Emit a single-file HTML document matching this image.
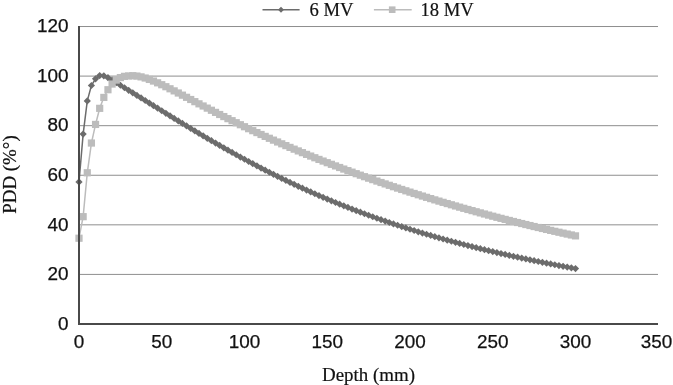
<!DOCTYPE html>
<html><head><meta charset="utf-8"><style>
html,body{margin:0;padding:0;background:#fff;}
body{width:673px;height:385px;overflow:hidden;}
svg{display:block;}
.sans{font-family:"Liberation Sans",Arial,sans-serif;font-size:18.9px;fill:#111;stroke:#111;stroke-width:0.25px;}
.serif{font-family:"Liberation Serif","Times New Roman",serif;font-size:18.9px;fill:#111;stroke:#111;stroke-width:0.2px;}
</style></head><body>
<svg width="673" height="385" viewBox="0 0 673 385">
<g stroke="#8e8e8e" stroke-width="1"><line x1="79" x2="658" y1="274.42" y2="274.42"/><line x1="79" x2="658" y1="224.84" y2="224.84"/><line x1="79" x2="658" y1="175.26" y2="175.26"/><line x1="79" x2="658" y1="125.68" y2="125.68"/><line x1="79" x2="658" y1="76.10" y2="76.10"/><line x1="79" x2="658" y1="26.52" y2="26.52"/></g>
<g class="sans"><text x="68.6" y="329.80" text-anchor="end">0</text><text x="68.6" y="280.22" text-anchor="end">20</text><text x="68.6" y="230.64" text-anchor="end">40</text><text x="68.6" y="181.06" text-anchor="end">60</text><text x="68.6" y="131.48" text-anchor="end">80</text><text x="68.6" y="81.90" text-anchor="end">100</text><text x="68.6" y="32.32" text-anchor="end">120</text><text x="79.00" y="347.8" text-anchor="middle">0</text><text x="161.75" y="347.8" text-anchor="middle">50</text><text x="244.50" y="347.8" text-anchor="middle">100</text><text x="327.25" y="347.8" text-anchor="middle">150</text><text x="410.00" y="347.8" text-anchor="middle">200</text><text x="492.75" y="347.8" text-anchor="middle">250</text><text x="575.50" y="347.8" text-anchor="middle">300</text><text x="656.50" y="347.8" text-anchor="middle">350</text></g>
<text class="serif" x="368.5" y="381" text-anchor="middle">Depth (mm)</text>
<text class="serif" transform="translate(16.2,174.5) rotate(-90)" text-anchor="middle">PDD (%°)</text>
<g>
<polyline fill="none" stroke="#6c6c6c" stroke-width="1.5" points="79.00,181.95 83.14,134.11 87.28,100.89 91.41,85.52 95.55,78.83 99.69,75.60 103.83,75.85 107.96,77.71 112.10,80.22 116.24,82.71 120.38,85.23 124.51,87.75 128.65,90.29 132.79,92.84 136.93,95.39 141.06,97.95 145.20,100.52 149.34,103.08 153.47,105.65 157.61,108.21 161.75,110.77 165.89,113.32 170.03,115.87 174.16,118.41 178.30,120.94 182.44,123.45 186.57,125.96 190.71,128.46 194.85,130.93 198.99,133.40 203.12,135.85 207.26,138.28 211.40,140.69 215.54,143.09 219.68,145.46 223.81,147.82 227.95,150.15 232.09,152.47 236.22,154.76 240.36,157.03 244.50,159.27 248.64,161.50 252.78,163.70 256.91,165.87 261.05,168.03 265.19,170.15 269.33,172.26 273.46,174.33 277.60,176.39 281.74,178.42 285.88,180.42 290.01,182.40 294.15,184.35 298.29,186.28 302.43,188.18 306.56,190.06 310.70,191.91 314.84,193.74 318.98,195.54 323.11,197.32 327.25,199.07 331.39,200.80 335.52,202.50 339.66,204.18 343.80,205.83 347.94,207.46 352.07,209.07 356.21,210.66 360.35,212.22 364.49,213.75 368.62,215.27 372.76,216.76 376.90,218.23 381.04,219.68 385.18,221.11 389.31,222.52 393.45,223.90 397.59,225.26 401.73,226.61 405.86,227.93 410.00,229.24 414.14,230.52 418.27,231.79 422.41,233.03 426.55,234.26 430.69,235.47 434.82,236.66 438.96,237.83 443.10,238.99 447.24,240.13 451.38,241.25 455.51,242.36 459.65,243.45 463.79,244.52 467.93,245.58 472.06,246.62 476.20,247.65 480.34,248.67 484.48,249.66 488.61,250.65 492.75,251.62 496.89,252.58 501.03,253.53 505.16,254.46 509.30,255.38 513.44,256.29 517.58,257.18 521.71,258.07 525.85,258.94 529.99,259.80 534.12,260.65 538.26,261.49 542.40,262.32 546.54,263.14 550.67,263.95 554.81,264.75 558.95,265.54 563.09,266.33 567.23,267.10 571.36,267.86 575.50,268.62"/>
<g fill="#6c6c6c"><path d="M79.00 178.35L82.60 181.95L79.00 185.55L75.40 181.95Z"/><path d="M83.14 130.51L86.74 134.11L83.14 137.71L79.54 134.11Z"/><path d="M87.28 97.29L90.88 100.89L87.28 104.49L83.68 100.89Z"/><path d="M91.41 81.92L95.01 85.52L91.41 89.12L87.81 85.52Z"/><path d="M95.55 75.23L99.15 78.83L95.55 82.43L91.95 78.83Z"/><path d="M99.69 72.00L103.29 75.60L99.69 79.20L96.09 75.60Z"/><path d="M103.83 72.25L107.42 75.85L103.83 79.45L100.23 75.85Z"/><path d="M107.96 74.11L111.56 77.71L107.96 81.31L104.36 77.71Z"/><path d="M112.10 76.62L115.70 80.22L112.10 83.82L108.50 80.22Z"/><path d="M116.24 79.11L119.84 82.71L116.24 86.31L112.64 82.71Z"/><path d="M120.38 81.63L123.97 85.23L120.38 88.83L116.78 85.23Z"/><path d="M124.51 84.15L128.11 87.75L124.51 91.35L120.91 87.75Z"/><path d="M128.65 86.69L132.25 90.29L128.65 93.89L125.05 90.29Z"/><path d="M132.79 89.24L136.39 92.84L132.79 96.44L129.19 92.84Z"/><path d="M136.93 91.79L140.53 95.39L136.93 98.99L133.33 95.39Z"/><path d="M141.06 94.35L144.66 97.95L141.06 101.55L137.46 97.95Z"/><path d="M145.20 96.92L148.80 100.52L145.20 104.12L141.60 100.52Z"/><path d="M149.34 99.48L152.94 103.08L149.34 106.68L145.74 103.08Z"/><path d="M153.47 102.05L157.07 105.65L153.47 109.25L149.88 105.65Z"/><path d="M157.61 104.61L161.21 108.21L157.61 111.81L154.01 108.21Z"/><path d="M161.75 107.17L165.35 110.77L161.75 114.37L158.15 110.77Z"/><path d="M165.89 109.72L169.49 113.32L165.89 116.92L162.29 113.32Z"/><path d="M170.03 112.27L173.62 115.87L170.03 119.47L166.43 115.87Z"/><path d="M174.16 114.81L177.76 118.41L174.16 122.01L170.56 118.41Z"/><path d="M178.30 117.34L181.90 120.94L178.30 124.54L174.70 120.94Z"/><path d="M182.44 119.85L186.04 123.45L182.44 127.05L178.84 123.45Z"/><path d="M186.57 122.36L190.17 125.96L186.57 129.56L182.97 125.96Z"/><path d="M190.71 124.86L194.31 128.46L190.71 132.06L187.11 128.46Z"/><path d="M194.85 127.33L198.45 130.93L194.85 134.53L191.25 130.93Z"/><path d="M198.99 129.80L202.59 133.40L198.99 137.00L195.39 133.40Z"/><path d="M203.12 132.25L206.72 135.85L203.12 139.45L199.53 135.85Z"/><path d="M207.26 134.68L210.86 138.28L207.26 141.88L203.66 138.28Z"/><path d="M211.40 137.09L215.00 140.69L211.40 144.29L207.80 140.69Z"/><path d="M215.54 139.49L219.14 143.09L215.54 146.69L211.94 143.09Z"/><path d="M219.68 141.86L223.28 145.46L219.68 149.06L216.08 145.46Z"/><path d="M223.81 144.22L227.41 147.82L223.81 151.42L220.21 147.82Z"/><path d="M227.95 146.55L231.55 150.15L227.95 153.75L224.35 150.15Z"/><path d="M232.09 148.87L235.69 152.47L232.09 156.07L228.49 152.47Z"/><path d="M236.22 151.16L239.82 154.76L236.22 158.36L232.62 154.76Z"/><path d="M240.36 153.43L243.96 157.03L240.36 160.63L236.76 157.03Z"/><path d="M244.50 155.67L248.10 159.27L244.50 162.87L240.90 159.27Z"/><path d="M248.64 157.90L252.24 161.50L248.64 165.10L245.04 161.50Z"/><path d="M252.78 160.10L256.38 163.70L252.78 167.30L249.18 163.70Z"/><path d="M256.91 162.27L260.51 165.87L256.91 169.47L253.31 165.87Z"/><path d="M261.05 164.43L264.65 168.03L261.05 171.63L257.45 168.03Z"/><path d="M265.19 166.55L268.79 170.15L265.19 173.75L261.59 170.15Z"/><path d="M269.33 168.66L272.93 172.26L269.33 175.86L265.73 172.26Z"/><path d="M273.46 170.73L277.06 174.33L273.46 177.93L269.86 174.33Z"/><path d="M277.60 172.79L281.20 176.39L277.60 179.99L274.00 176.39Z"/><path d="M281.74 174.82L285.34 178.42L281.74 182.02L278.14 178.42Z"/><path d="M285.88 176.82L289.48 180.42L285.88 184.02L282.27 180.42Z"/><path d="M290.01 178.80L293.61 182.40L290.01 186.00L286.41 182.40Z"/><path d="M294.15 180.75L297.75 184.35L294.15 187.95L290.55 184.35Z"/><path d="M298.29 182.68L301.89 186.28L298.29 189.88L294.69 186.28Z"/><path d="M302.43 184.58L306.03 188.18L302.43 191.78L298.82 188.18Z"/><path d="M306.56 186.46L310.16 190.06L306.56 193.66L302.96 190.06Z"/><path d="M310.70 188.31L314.30 191.91L310.70 195.51L307.10 191.91Z"/><path d="M314.84 190.14L318.44 193.74L314.84 197.34L311.24 193.74Z"/><path d="M318.98 191.94L322.58 195.54L318.98 199.14L315.38 195.54Z"/><path d="M323.11 193.72L326.71 197.32L323.11 200.92L319.51 197.32Z"/><path d="M327.25 195.47L330.85 199.07L327.25 202.67L323.65 199.07Z"/><path d="M331.39 197.20L334.99 200.80L331.39 204.40L327.79 200.80Z"/><path d="M335.52 198.90L339.12 202.50L335.52 206.10L331.92 202.50Z"/><path d="M339.66 200.58L343.26 204.18L339.66 207.78L336.06 204.18Z"/><path d="M343.80 202.23L347.40 205.83L343.80 209.43L340.20 205.83Z"/><path d="M347.94 203.86L351.54 207.46L347.94 211.06L344.34 207.46Z"/><path d="M352.07 205.47L355.68 209.07L352.07 212.67L348.47 209.07Z"/><path d="M356.21 207.06L359.81 210.66L356.21 214.26L352.61 210.66Z"/><path d="M360.35 208.62L363.95 212.22L360.35 215.82L356.75 212.22Z"/><path d="M364.49 210.15L368.09 213.75L364.49 217.35L360.89 213.75Z"/><path d="M368.62 211.67L372.23 215.27L368.62 218.87L365.02 215.27Z"/><path d="M372.76 213.16L376.36 216.76L372.76 220.36L369.16 216.76Z"/><path d="M376.90 214.63L380.50 218.23L376.90 221.83L373.30 218.23Z"/><path d="M381.04 216.08L384.64 219.68L381.04 223.28L377.44 219.68Z"/><path d="M385.18 217.51L388.78 221.11L385.18 224.71L381.57 221.11Z"/><path d="M389.31 218.92L392.91 222.52L389.31 226.12L385.71 222.52Z"/><path d="M393.45 220.30L397.05 223.90L393.45 227.50L389.85 223.90Z"/><path d="M397.59 221.66L401.19 225.26L397.59 228.86L393.99 225.26Z"/><path d="M401.73 223.01L405.33 226.61L401.73 230.21L398.12 226.61Z"/><path d="M405.86 224.33L409.46 227.93L405.86 231.53L402.26 227.93Z"/><path d="M410.00 225.64L413.60 229.24L410.00 232.84L406.40 229.24Z"/><path d="M414.14 226.92L417.74 230.52L414.14 234.12L410.54 230.52Z"/><path d="M418.27 228.19L421.88 231.79L418.27 235.39L414.67 231.79Z"/><path d="M422.41 229.43L426.01 233.03L422.41 236.63L418.81 233.03Z"/><path d="M426.55 230.66L430.15 234.26L426.55 237.86L422.95 234.26Z"/><path d="M430.69 231.87L434.29 235.47L430.69 239.07L427.09 235.47Z"/><path d="M434.82 233.06L438.43 236.66L434.82 240.26L431.22 236.66Z"/><path d="M438.96 234.23L442.56 237.83L438.96 241.43L435.36 237.83Z"/><path d="M443.10 235.39L446.70 238.99L443.10 242.59L439.50 238.99Z"/><path d="M447.24 236.53L450.84 240.13L447.24 243.73L443.64 240.13Z"/><path d="M451.38 237.65L454.98 241.25L451.38 244.85L447.77 241.25Z"/><path d="M455.51 238.76L459.11 242.36L455.51 245.96L451.91 242.36Z"/><path d="M459.65 239.85L463.25 243.45L459.65 247.05L456.05 243.45Z"/><path d="M463.79 240.92L467.39 244.52L463.79 248.12L460.19 244.52Z"/><path d="M467.93 241.98L471.53 245.58L467.93 249.18L464.32 245.58Z"/><path d="M472.06 243.02L475.66 246.62L472.06 250.22L468.46 246.62Z"/><path d="M476.20 244.05L479.80 247.65L476.20 251.25L472.60 247.65Z"/><path d="M480.34 245.07L483.94 248.67L480.34 252.27L476.74 248.67Z"/><path d="M484.48 246.06L488.08 249.66L484.48 253.26L480.88 249.66Z"/><path d="M488.61 247.05L492.21 250.65L488.61 254.25L485.01 250.65Z"/><path d="M492.75 248.02L496.35 251.62L492.75 255.22L489.15 251.62Z"/><path d="M496.89 248.98L500.49 252.58L496.89 256.18L493.29 252.58Z"/><path d="M501.03 249.93L504.63 253.53L501.03 257.13L497.43 253.53Z"/><path d="M505.16 250.86L508.76 254.46L505.16 258.06L501.56 254.46Z"/><path d="M509.30 251.78L512.90 255.38L509.30 258.98L505.70 255.38Z"/><path d="M513.44 252.69L517.04 256.29L513.44 259.89L509.84 256.29Z"/><path d="M517.58 253.58L521.18 257.18L517.58 260.78L513.98 257.18Z"/><path d="M521.71 254.47L525.31 258.07L521.71 261.67L518.11 258.07Z"/><path d="M525.85 255.34L529.45 258.94L525.85 262.54L522.25 258.94Z"/><path d="M529.99 256.20L533.59 259.80L529.99 263.40L526.39 259.80Z"/><path d="M534.12 257.05L537.73 260.65L534.12 264.25L530.52 260.65Z"/><path d="M538.26 257.89L541.86 261.49L538.26 265.09L534.66 261.49Z"/><path d="M542.40 258.72L546.00 262.32L542.40 265.92L538.80 262.32Z"/><path d="M546.54 259.54L550.14 263.14L546.54 266.74L542.94 263.14Z"/><path d="M550.67 260.35L554.27 263.95L550.67 267.55L547.07 263.95Z"/><path d="M554.81 261.15L558.41 264.75L554.81 268.35L551.21 264.75Z"/><path d="M558.95 261.94L562.55 265.54L558.95 269.14L555.35 265.54Z"/><path d="M563.09 262.73L566.69 266.33L563.09 269.93L559.49 266.33Z"/><path d="M567.23 263.50L570.83 267.10L567.23 270.70L563.62 267.10Z"/><path d="M571.36 264.26L574.96 267.86L571.36 271.46L567.76 267.86Z"/><path d="M575.50 265.02L579.10 268.62L575.50 272.22L571.90 268.62Z"/></g>
<polyline fill="none" stroke="#bcbcbc" stroke-width="1.5" points="79.00,238.23 83.14,216.66 87.28,172.78 91.41,143.03 95.55,124.44 99.69,108.33 103.83,97.42 107.96,89.73 112.10,84.03 116.24,80.07 120.38,77.59 124.51,76.35 128.65,75.93 132.79,75.72 136.93,76.07 141.06,76.87 145.20,78.02 149.34,79.43 153.47,81.05 157.61,82.83 161.75,84.72 165.89,86.71 170.03,88.77 174.16,90.87 178.30,93.00 182.44,95.16 186.57,97.32 190.71,99.49 194.85,101.66 198.99,103.83 203.12,105.99 207.26,108.13 211.40,110.27 215.54,112.38 219.68,114.49 223.81,116.57 227.95,118.64 232.09,120.69 236.22,122.72 240.36,124.73 244.50,126.72 248.64,128.69 252.78,130.65 256.91,132.58 261.05,134.50 265.19,136.40 269.33,138.28 273.46,140.14 277.60,141.98 281.74,143.80 285.88,145.61 290.01,147.40 294.15,149.17 298.29,150.92 302.43,152.65 306.56,154.37 310.70,156.07 314.84,157.75 318.98,159.42 323.11,161.07 327.25,162.70 331.39,164.32 335.52,165.92 339.66,167.50 343.80,169.07 347.94,170.63 352.07,172.16 356.21,173.68 360.35,175.19 364.49,176.68 368.62,178.16 372.76,179.62 376.90,181.07 381.04,182.50 385.18,183.92 389.31,185.32 393.45,186.71 397.59,188.09 401.73,189.45 405.86,190.80 410.00,192.13 414.14,193.46 418.27,194.76 422.41,196.06 426.55,197.34 430.69,198.61 434.82,199.87 438.96,201.11 443.10,202.34 447.24,203.56 451.38,204.77 455.51,205.97 459.65,207.15 463.79,208.32 467.93,209.48 472.06,210.63 476.20,211.76 480.34,212.89 484.48,214.00 488.61,215.10 492.75,216.20 496.89,217.28 501.03,218.35 505.16,219.41 509.30,220.45 513.44,221.49 517.58,222.52 521.71,223.54 525.85,224.54 529.99,225.54 534.12,226.53 538.26,227.50 542.40,228.47 546.54,229.43 550.67,230.38 554.81,231.31 558.95,232.24 563.09,233.16 567.23,234.07 571.36,234.97 575.50,235.87"/>
<g fill="#bcbcbc"><rect x="75.40" y="234.63" width="7.20" height="7.20"/><rect x="79.54" y="213.06" width="7.20" height="7.20"/><rect x="83.68" y="169.18" width="7.20" height="7.20"/><rect x="87.81" y="139.43" width="7.20" height="7.20"/><rect x="91.95" y="120.84" width="7.20" height="7.20"/><rect x="96.09" y="104.73" width="7.20" height="7.20"/><rect x="100.23" y="93.82" width="7.20" height="7.20"/><rect x="104.36" y="86.13" width="7.20" height="7.20"/><rect x="108.50" y="80.43" width="7.20" height="7.20"/><rect x="112.64" y="76.47" width="7.20" height="7.20"/><rect x="116.78" y="73.99" width="7.20" height="7.20"/><rect x="120.91" y="72.75" width="7.20" height="7.20"/><rect x="125.05" y="72.33" width="7.20" height="7.20"/><rect x="129.19" y="72.12" width="7.20" height="7.20"/><rect x="133.33" y="72.47" width="7.20" height="7.20"/><rect x="137.46" y="73.27" width="7.20" height="7.20"/><rect x="141.60" y="74.42" width="7.20" height="7.20"/><rect x="145.74" y="75.83" width="7.20" height="7.20"/><rect x="149.88" y="77.45" width="7.20" height="7.20"/><rect x="154.01" y="79.23" width="7.20" height="7.20"/><rect x="158.15" y="81.12" width="7.20" height="7.20"/><rect x="162.29" y="83.11" width="7.20" height="7.20"/><rect x="166.43" y="85.17" width="7.20" height="7.20"/><rect x="170.56" y="87.27" width="7.20" height="7.20"/><rect x="174.70" y="89.40" width="7.20" height="7.20"/><rect x="178.84" y="91.56" width="7.20" height="7.20"/><rect x="182.97" y="93.72" width="7.20" height="7.20"/><rect x="187.11" y="95.89" width="7.20" height="7.20"/><rect x="191.25" y="98.06" width="7.20" height="7.20"/><rect x="195.39" y="100.23" width="7.20" height="7.20"/><rect x="199.53" y="102.39" width="7.20" height="7.20"/><rect x="203.66" y="104.53" width="7.20" height="7.20"/><rect x="207.80" y="106.67" width="7.20" height="7.20"/><rect x="211.94" y="108.78" width="7.20" height="7.20"/><rect x="216.08" y="110.89" width="7.20" height="7.20"/><rect x="220.21" y="112.97" width="7.20" height="7.20"/><rect x="224.35" y="115.04" width="7.20" height="7.20"/><rect x="228.49" y="117.09" width="7.20" height="7.20"/><rect x="232.62" y="119.12" width="7.20" height="7.20"/><rect x="236.76" y="121.13" width="7.20" height="7.20"/><rect x="240.90" y="123.12" width="7.20" height="7.20"/><rect x="245.04" y="125.09" width="7.20" height="7.20"/><rect x="249.18" y="127.05" width="7.20" height="7.20"/><rect x="253.31" y="128.98" width="7.20" height="7.20"/><rect x="257.45" y="130.90" width="7.20" height="7.20"/><rect x="261.59" y="132.80" width="7.20" height="7.20"/><rect x="265.73" y="134.68" width="7.20" height="7.20"/><rect x="269.86" y="136.54" width="7.20" height="7.20"/><rect x="274.00" y="138.38" width="7.20" height="7.20"/><rect x="278.14" y="140.20" width="7.20" height="7.20"/><rect x="282.27" y="142.01" width="7.20" height="7.20"/><rect x="286.41" y="143.80" width="7.20" height="7.20"/><rect x="290.55" y="145.57" width="7.20" height="7.20"/><rect x="294.69" y="147.32" width="7.20" height="7.20"/><rect x="298.82" y="149.05" width="7.20" height="7.20"/><rect x="302.96" y="150.77" width="7.20" height="7.20"/><rect x="307.10" y="152.47" width="7.20" height="7.20"/><rect x="311.24" y="154.15" width="7.20" height="7.20"/><rect x="315.38" y="155.82" width="7.20" height="7.20"/><rect x="319.51" y="157.47" width="7.20" height="7.20"/><rect x="323.65" y="159.10" width="7.20" height="7.20"/><rect x="327.79" y="160.72" width="7.20" height="7.20"/><rect x="331.92" y="162.32" width="7.20" height="7.20"/><rect x="336.06" y="163.90" width="7.20" height="7.20"/><rect x="340.20" y="165.47" width="7.20" height="7.20"/><rect x="344.34" y="167.03" width="7.20" height="7.20"/><rect x="348.47" y="168.56" width="7.20" height="7.20"/><rect x="352.61" y="170.08" width="7.20" height="7.20"/><rect x="356.75" y="171.59" width="7.20" height="7.20"/><rect x="360.89" y="173.08" width="7.20" height="7.20"/><rect x="365.02" y="174.56" width="7.20" height="7.20"/><rect x="369.16" y="176.02" width="7.20" height="7.20"/><rect x="373.30" y="177.47" width="7.20" height="7.20"/><rect x="377.44" y="178.90" width="7.20" height="7.20"/><rect x="381.57" y="180.32" width="7.20" height="7.20"/><rect x="385.71" y="181.72" width="7.20" height="7.20"/><rect x="389.85" y="183.11" width="7.20" height="7.20"/><rect x="393.99" y="184.49" width="7.20" height="7.20"/><rect x="398.12" y="185.85" width="7.20" height="7.20"/><rect x="402.26" y="187.20" width="7.20" height="7.20"/><rect x="406.40" y="188.53" width="7.20" height="7.20"/><rect x="410.54" y="189.86" width="7.20" height="7.20"/><rect x="414.67" y="191.16" width="7.20" height="7.20"/><rect x="418.81" y="192.46" width="7.20" height="7.20"/><rect x="422.95" y="193.74" width="7.20" height="7.20"/><rect x="427.09" y="195.01" width="7.20" height="7.20"/><rect x="431.22" y="196.27" width="7.20" height="7.20"/><rect x="435.36" y="197.51" width="7.20" height="7.20"/><rect x="439.50" y="198.74" width="7.20" height="7.20"/><rect x="443.64" y="199.96" width="7.20" height="7.20"/><rect x="447.77" y="201.17" width="7.20" height="7.20"/><rect x="451.91" y="202.37" width="7.20" height="7.20"/><rect x="456.05" y="203.55" width="7.20" height="7.20"/><rect x="460.19" y="204.72" width="7.20" height="7.20"/><rect x="464.32" y="205.88" width="7.20" height="7.20"/><rect x="468.46" y="207.03" width="7.20" height="7.20"/><rect x="472.60" y="208.16" width="7.20" height="7.20"/><rect x="476.74" y="209.29" width="7.20" height="7.20"/><rect x="480.88" y="210.40" width="7.20" height="7.20"/><rect x="485.01" y="211.50" width="7.20" height="7.20"/><rect x="489.15" y="212.60" width="7.20" height="7.20"/><rect x="493.29" y="213.68" width="7.20" height="7.20"/><rect x="497.43" y="214.75" width="7.20" height="7.20"/><rect x="501.56" y="215.81" width="7.20" height="7.20"/><rect x="505.70" y="216.85" width="7.20" height="7.20"/><rect x="509.84" y="217.89" width="7.20" height="7.20"/><rect x="513.98" y="218.92" width="7.20" height="7.20"/><rect x="518.11" y="219.94" width="7.20" height="7.20"/><rect x="522.25" y="220.94" width="7.20" height="7.20"/><rect x="526.39" y="221.94" width="7.20" height="7.20"/><rect x="530.52" y="222.93" width="7.20" height="7.20"/><rect x="534.66" y="223.90" width="7.20" height="7.20"/><rect x="538.80" y="224.87" width="7.20" height="7.20"/><rect x="542.94" y="225.83" width="7.20" height="7.20"/><rect x="547.07" y="226.78" width="7.20" height="7.20"/><rect x="551.21" y="227.71" width="7.20" height="7.20"/><rect x="555.35" y="228.64" width="7.20" height="7.20"/><rect x="559.49" y="229.56" width="7.20" height="7.20"/><rect x="563.62" y="230.47" width="7.20" height="7.20"/><rect x="567.76" y="231.37" width="7.20" height="7.20"/><rect x="571.90" y="232.27" width="7.20" height="7.20"/></g>
</g>
<g stroke="#4a4a4a" stroke-width="2" fill="none">
<line x1="79" y1="26" x2="79" y2="325"/>
<line x1="78" y1="324" x2="658" y2="324"/>
</g>
<g>
<line x1="262.5" x2="299.6" y1="9.8" y2="9.8" stroke="#6c6c6c" stroke-width="1.5"/>
<path d="M281 6.8L284 9.8L281 12.8L278 9.8Z" fill="#6c6c6c"/>
<text class="serif" style="font-size:18.6px" x="309.5" y="16">6 MV</text>
<line x1="373.9" x2="411.7" y1="9.8" y2="9.8" stroke="#bcbcbc" stroke-width="1.5"/>
<rect x="388.9" y="6.4" width="6.6" height="6.6" fill="#bcbcbc"/>
<text class="serif" style="font-size:18.6px" x="420.4" y="16">18 MV</text>
</g>
</svg>
</body></html>
